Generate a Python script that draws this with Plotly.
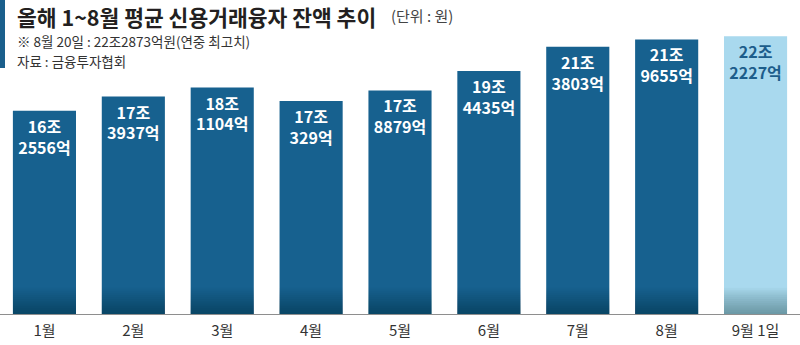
import plotly.graph_objects as go

# Monthly average credit-financing balance (unit: 조원)
months = ["1월", "2월", "3월", "4월", "5월", "6월", "7월", "8월", "9월 1일"]
balance_jo = [16.2556, 17.3937, 18.1104, 17.0329, 17.8879, 19.4435, 21.3803, 21.9655, 22.2227]
label_top = ["16조", "17조", "18조", "17조", "17조", "19조", "21조", "21조", "22조"]
label_bottom = ["2556억", "3937억", "1104억", "329억", "8879억", "4435억", "3803억", "9655억", "2227억"]

title_text = "올해 1~8월 평균 신용거래융자 잔액 추이"
unit_text = "(단위 : 원)"
note_text = "※ 8월 20일 : 22조2873억원(연중 최고치)"
source_text = "자료 : 금융투자협회"

W, H = 800, 345
MB = 31
PLOT_H = H - MB
PX_PER_UNIT = 12.5

DARK = "#17618f"
LIGHT = "#a9d9ee"
FONT = "Noto Sans CJK KR"

bar_colors = [DARK] * (len(months) - 1) + [LIGHT]
text_colors = ["#ffffff"] * (len(months) - 1) + ["#1c5d8b"]
labels = [f"{a}<br>{b}" for a, b in zip(label_top, label_bottom)]

fig = go.Figure()
fig.add_trace(go.Bar(
    x=months, y=balance_jo,
    marker=dict(color=bar_colors, line=dict(width=0)),
    text=labels, textposition="inside", insidetextanchor="end", textangle=0,
    insidetextfont=dict(family=FONT, size=16, color=text_colors, weight="bold"),
    hoverinfo="skip",
))

# darker band at the foot of every bar (fine stepped shading)
STEPS = 14
for k in range(1, STEPS + 1):
    fig.add_trace(go.Bar(
        x=months, y=[0.15 * k] * len(months),
        marker=dict(color="rgba(0,25,45,0.026)", line=dict(width=0)),
        hoverinfo="skip",
    ))

fig.update_layout(
    width=W, height=H,
    margin=dict(l=0, r=0, t=0, b=MB),
    paper_bgcolor="white", plot_bgcolor="white",
    barmode="overlay", bargap=0.29,
    showlegend=False,
    font=dict(family=FONT),
    xaxis=dict(
        showgrid=False, zeroline=False, showline=True,
        linecolor="#8e8e8e", linewidth=1, ticks="",
        tickfont=dict(family=FONT, size=15, color="#333333"),
        ticklabelstandoff=3, fixedrange=True,
    ),
    yaxis=dict(
        range=[0, PLOT_H / PX_PER_UNIT], visible=False, fixedrange=True,
    ),
)


def py(px):
    return 1 - px / PLOT_H


# accent strip next to the heading block
fig.add_shape(type="rect", xref="paper", yref="paper",
              x0=0, x1=5 / W, y0=py(68), y1=1,
              fillcolor="#1a5f8c", line=dict(width=0), layer="above")

fig.add_annotation(text=f"<b>{title_text}</b>", xref="paper", yref="paper",
                   x=15 / W, y=py(17), xanchor="left", yanchor="middle",
                   showarrow=False, font=dict(family=FONT, size=21.5, color="#231f20"))
fig.add_annotation(text=unit_text, xref="paper", yref="paper",
                   x=389 / W, y=py(16), xanchor="left", yanchor="middle",
                   showarrow=False, font=dict(family=FONT, size=15, color="#444444"))
fig.add_annotation(text=note_text, xref="paper", yref="paper",
                   x=15 / W, y=py(41), xanchor="left", yanchor="middle",
                   showarrow=False, font=dict(family=FONT, size=13.5, color="#333333"))
fig.add_annotation(text=source_text, xref="paper", yref="paper",
                   x=15 / W, y=py(61), xanchor="left", yanchor="middle",
                   showarrow=False, font=dict(family=FONT, size=13.5, color="#333333"))

fig.write_html("out.html")
